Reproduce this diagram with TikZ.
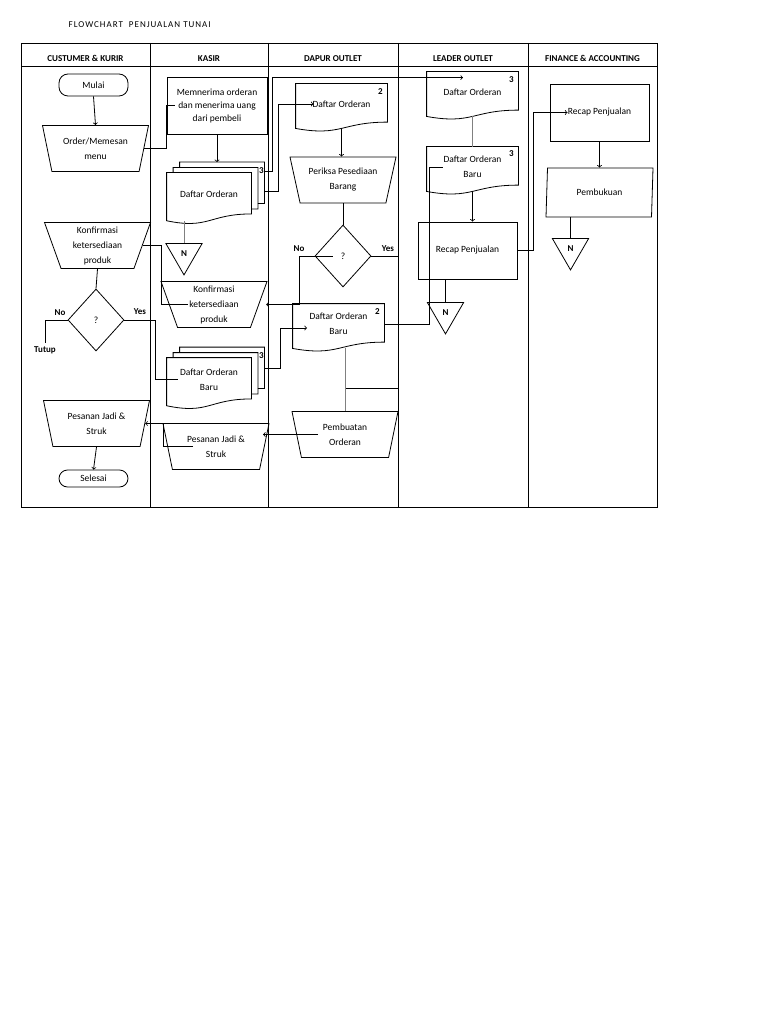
\documentclass[tikz,border=0pt]{standalone}
\usepackage{fontspec}
\setmainfont{Carlito}
\usetikzlibrary{shapes.geometric,calc}

\newcommand{\pas}[1]{\makebox[0pt]{#1}}
\newcommand{\bentukdok}[1]{%
\draw (#1.north west) -- (#1.north east) -- ($(#1.north east)!0.944!(#1.south east)$) .. controls ($(#1.north)!0.944!(#1.south)$) and ($(#1.north)!1.303!(#1.south)$) .. ($(#1.north west)!1.099!(#1.south west)$) -- cycle;
\coordinate (#1-b) at ($(#1.north)!1.1!(#1.south)$);}
\newcommand{\tumpukan}[1]{%
\draw ($(#1.north west)+(6.5,0)$) -- ($(#1.north west)+(6.5,-5)$) -- ($(#1.north east)+(6.5,-5)$) -- ($(#1.north east)!0.944!(#1.south east)+(6.5,-5)$) -- ($(#1.north east)!0.944!(#1.south east)+(0,-5)$);
\draw ($(#1.north west)+(13,-5)$) -- ($(#1.north west)+(13,-10.5)$) -- ($(#1.north east)+(13,-10.5)$) -- ($(#1.north east)!0.944!(#1.south east)+(13,-10.5)$) -- ($(#1.north east)!0.944!(#1.south east)+(6.5,-10.5)$);
\coordinate (#1-3) at ($(#1.north east)+(13,-10.5)$);}

\begin{document}
\begin{tikzpicture}[x = 1pt, y = -1pt, line width = 0.8pt,
every node/.style = {font = \fontsize{9.5}{15}\selectfont, align = center},
kepala/.style = {anchor = base, font = \fontsize{9}{11}\selectfont\bfseries},
tebal/.style = {font = \fontsize{9}{11}\selectfont\bfseries},
angka/.style = {inner sep = 0, font = \fontsize{9}{11}\selectfont\bfseries},
terminal/.style = {draw, rounded corners = 9pt, minimum width = 69pt, minimum height = 22pt, inner sep = 0},
manual/.style = {draw, trapezium, shape border rotate = 180, trapezium angle = 66.5, trapezium stretches body, minimum width = 106pt, minimum height = 46pt, inner sep = 0},
proses/.style = {draw, minimum width = 99pt, minimum height = 57pt, inner sep = 0},
keputusan/.style = {draw, diamond, minimum width = 56pt, minimum height = 62pt, inner sep = 0},
dok/.style = {minimum width = 91pt, minimum height = 40pt, inner sep = 0},
konektor/.style = {draw, regular polygon, regular polygon sides = 3, shape border rotate = 180, minimum size = 42pt, inner sep = 0, anchor = north, font = \fontsize{9}{11}\selectfont\bfseries}]
\useasboundingbox (0,0) rectangle (768,1024);
%\draw[help lines, step = 50] (0,0) grid (768,520);
\node[anchor = west, font = \fontsize{9}{11}\selectfont\addfontfeature{LetterSpace = 11}] (judul) at (65,25) {FLOWCHART\ \ PENJUALAN TUNAI};
\draw (21,43) rectangle (657,507);
\draw (21,66) -- (657,66);
\draw (150,43) -- (150,507);
\draw (268,43) -- (268,507);
\draw (398,43) -- (398,507);
\draw (528,43) -- (528,507);
\node[kepala] (k1) at (85.5,62) {CUSTUMER \& KURIR};
\node[kepala] (k2) at (209,62) {KASIR};
\node[kepala] (k3) at (333,62) {DAPUR OUTLET};
\node[kepala] (k4) at (463,62) {LEADER OUTLET};
\node[kepala] (k5) at (592.5,62) {FINANCE \& ACCOUNTING};
% custumer & kurir
\node[terminal] (mulai) at (93.5,85) {Mulai};
\node[manual] (order) at (95.5,148.5) {\pas{Order/Memesan}\\\pas{menu}};
\node[manual] (konf1) at (97.5,245.5) {\pas{Konfirmasi}\\\pas{ketersediaan}\\\pas{produk}};
\node[keputusan] (q1) at (96,320) {?};
\node[tebal] (no1) at (60,313) {No};
\node[tebal] (yes1) at (140,312) {Yes};
\node[tebal] (tutup) at (45,350) {Tutup};
\node[manual] (pesan1) at (96.5,423.5) {\pas{Pesanan Jadi \&}\\\pas{Struk}};
\node[terminal, minimum height = 17pt, rounded corners = 8.5pt] (selesai) at (93.5,478.5) {Selesai};
% kasir
\node[proses, minimum width = 100pt, font = \fontsize{9.5}{13}\selectfont] (terima) at (217,105.5) {Memnerima orderan\\dan menerima uang\\dari pembeli};
\node[dok, minimum width = 84pt, minimum height = 43pt] (kdo) at (209,194.5) {Daftar Orderan};
\bentukdok{kdo}
\tumpukan{kdo}
\node[angka] (kdo-n) at ([xshift = -3pt, yshift = -8pt]kdo-3) {3};
\node[konektor] (kn) at (184,243) {N};
\node[manual] (konf2) at (214,304.5) {\pas{Konfirmasi}\\\pas{ketersediaan}\\\pas{produk}};
\node[dok, minimum width = 84pt, minimum height = 43pt] (kdob) at (209,379.5) {Daftar Orderan\\Baru};
\bentukdok{kdob}
\tumpukan{kdob}
\node[angka] (kdob-n) at ([xshift = -3pt, yshift = -8pt]kdob-3) {3};
\node[manual] (pesan2) at (216,446.5) {\pas{Pesanan Jadi \&}\\\pas{Struk}};
% dapur outlet
\node[dok] (ddo) at (341.5,104) {Daftar Orderan};
\bentukdok{ddo}
\node[angka] (ddo-n) at ([xshift = -7pt, yshift = -8pt]ddo.north east) {2};
\node[manual] (periksa) at (343,180) {\pas{Periksa Pesediaan}\\\pas{Barang}};
\node[keputusan] (q2) at (343,256) {?};
\node[tebal] (no2) at (299,249) {No};
\node[tebal] (yes2) at (388,249) {Yes};
\node[dok] (dob) at (338.5,324) {Daftar Orderan\\Baru};
\bentukdok{dob}
\node[angka] (dob-n) at ([xshift = -7pt, yshift = -8pt]dob.north east) {2};
\node[manual] (pemb) at (345,434.5) {\pas{Pembuatan}\\\pas{Orderan}};
% leader outlet
\node[dok] (ldo) at (472.5,92) {Daftar Orderan};
\bentukdok{ldo}
\node[angka] (ldo-n) at ([xshift = -7pt, yshift = -8pt]ldo.north east) {3};
\node[dok] (lob) at (472.5,167) {Daftar Orderan\\Baru};
\bentukdok{lob}
\node[angka] (lob-n) at ([xshift = -7pt, yshift = -7pt]lob.north east) {3};
\node[proses] (lrec) at (467.5,250.5) {Recap Penjualan};
\node[konektor] (ln) at (445.5,302) {N};
% finance & accounting
\node[proses] (frec) at (599.5,112.5) {Recap Penjualan};
\node[draw, trapezium, trapezium left angle = 77.3, trapezium right angle = 102.7, trapezium stretches body, minimum width = 107pt, minimum height = 49pt, inner sep = 0] (pbk) at (599.5,192.5) {Pembukuan};
\node[konektor] (fn) at (570.5,238) {N};
% garis
\draw[->] (mulai.south) -- (order.north);
\draw (konf1.south) -- (q1.north);
\draw (q1.west) -| (tutup.north);
\draw (q1.east) -- ++(31,0) |- ([xshift = 11pt]kdob.west);
\draw[->] (pesan1.south) -- (selesai.north);
\draw (order.east) -- ++(22,0) |- ([xshift = 8pt]terima.west);
\draw[->] (terima.south) -- (terima.south |- kdo-3);
\draw[gray] (kn.north) -- (kn.north |- kdo-b);
\draw (konf1.east) -- ++(19,0) |- ([xshift = -26pt]konf2.center);
\draw[->] ([yshift = -9.5pt]kdo-3) -- ++(8,0) |- ([xshift = -9.5pt, yshift = -6pt]ldo.north);
\draw[->] ([yshift = -29.5pt]kdo-3) -- ++(14,0) |- ([xshift = -28pt]ddo.center);
\draw[->] ([yshift = -21.5pt]kdob-3) -- ++(16,0) |- ([xshift = -31.5pt, yshift = -4pt]dob.center);
\draw[->] ([xshift = -23pt]pesan2.center) -- ++(-30,0) |- (pesan1.east);
\draw[->] (ddo-b) -- (ddo-b |- periksa.north);
\draw (periksa.south) -- (q2.north);
\draw (q2.east) -- ++(27,0) |- ([yshift = 22.5pt]pemb.north);
\draw[gray] (pemb.north) -- (pemb.north |- dob-b);
\draw[->] ([xshift = 18pt]q2.west) -- ++(-33,0) |- ([xshift = 7pt]konf2.east);
\draw[->] ([xshift = -27pt]pemb.center) -- ([xshift = 47pt]pesan2.center |- pemb.center);
\draw (dob.east) -- ++(45,0) |- ([xshift = -29.5pt]lob.center);
\draw[gray] (ldo-b) -- (lob.north);
\draw[->] (lob-b) -- (lob-b |- lrec.north);
\draw (ln.north) -- (ln.north |- lrec.south);
\draw[->] (lrec.east) -- ++(16,0) |- ([xshift = -32pt]frec.center);
\draw[->] (frec.south) -- (frec.south |- pbk.north);
\draw (fn.north) -- (fn.north |- pbk.south);
\end{tikzpicture}
\end{document}
